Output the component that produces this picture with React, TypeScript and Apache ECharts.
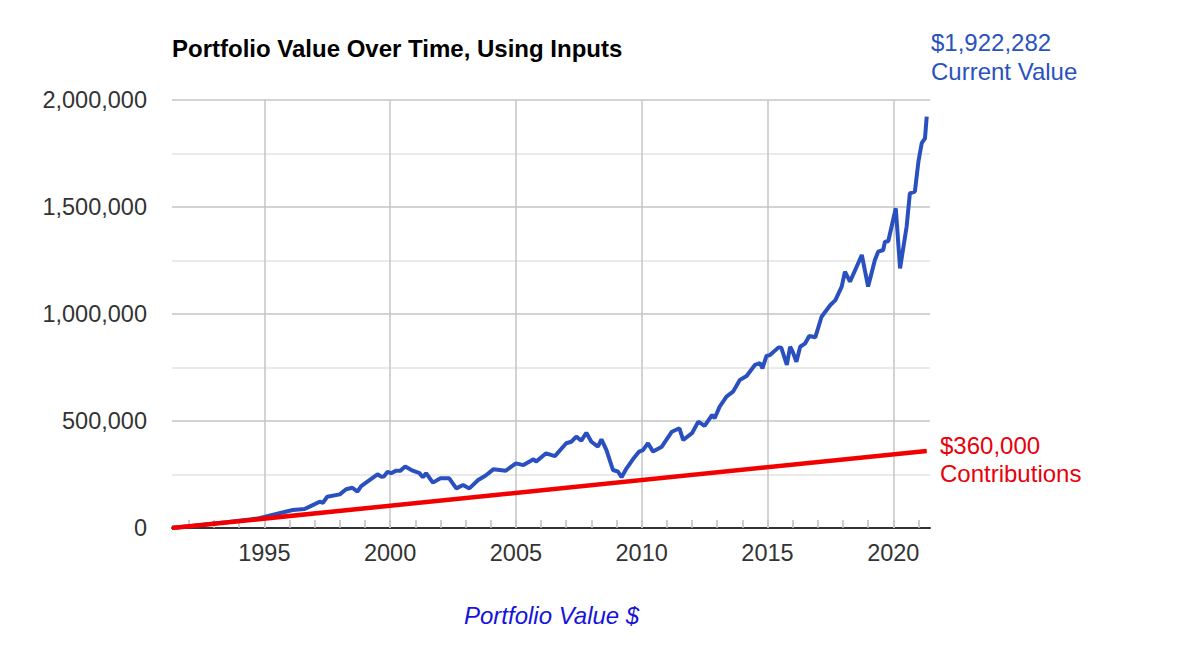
import React, { useEffect, useRef } from "react";
import * as echarts from "echarts";

const years = [
  1991.33, 1991.6, 1992.0, 1992.5, 1993.0, 1993.5, 1994.0, 1994.5, 1994.8, 1995.0,
  1995.6, 1996.13, 1996.6, 1996.8, 1997.2, 1997.33, 1997.5, 1998.0, 1998.25, 1998.5,
  1998.7, 1998.85, 1999.18, 1999.5, 1999.64, 1999.75, 1999.9, 2000.04, 2000.24, 2000.4,
  2000.6, 2000.9, 2001.17, 2001.3, 2001.43, 2001.7, 2002.0, 2002.35, 2002.63, 2002.9,
  2003.15, 2003.5, 2003.8, 2004.1, 2004.35, 2004.6, 2005.0, 2005.3, 2005.7, 2005.8,
  2006.2, 2006.55, 2007.0, 2007.2, 2007.4, 2007.6, 2007.8, 2008.0, 2008.26, 2008.4,
  2008.6, 2008.86, 2009.06, 2009.2, 2009.4, 2009.65, 2009.9, 2010.05, 2010.25, 2010.45,
  2010.8, 2011.2, 2011.5, 2011.65, 2012.0, 2012.25, 2012.5, 2012.8, 2012.9, 2013.1,
  2013.37, 2013.63, 2013.9, 2014.17, 2014.5, 2014.7, 2014.8, 2014.96, 2015.1, 2015.44,
  2015.55, 2015.77, 2015.9, 2016.0, 2016.15, 2016.3, 2016.5, 2016.66, 2016.9, 2017.15,
  2017.5, 2017.7, 2017.95, 2018.08, 2018.28, 2018.75, 2019.0, 2019.27, 2019.4, 2019.6,
  2019.67, 2019.8, 2020.1, 2020.27, 2020.53, 2020.66, 2020.86, 2021.0, 2021.13, 2021.26,
  2021.33,
];

const portfolio = [
  1000, 4000, 8000, 14000, 21000, 27000, 34000, 41000, 46000, 52000,
  69000, 84000, 89000, 100000, 123000, 118000, 146000, 157000, 181000, 188000,
  170000, 196000, 224000, 251000, 240000, 241000, 263000, 256000, 268000, 267000,
  287000, 268000, 256000, 237000, 256000, 212000, 232000, 232000, 185000, 201000,
  185000, 224000, 245000, 274000, 271000, 268000, 302000, 294000, 321000, 310000,
  349000, 336000, 396000, 403000, 427000, 408000, 445000, 403000, 380000, 414000,
  364000, 271000, 263000, 237000, 279000, 321000, 357000, 364000, 396000, 357000,
  380000, 450000, 466000, 411000, 443000, 497000, 477000, 528000, 513000, 567000,
  614000, 637000, 692000, 710000, 762000, 770000, 746000, 804000, 808000, 844000,
  842000, 762000, 847000, 824000, 777000, 847000, 863000, 897000, 891000, 987000,
  1042000, 1065000, 1128000, 1198000, 1151000, 1276000, 1128000, 1252000, 1291000, 1299000,
  1338000, 1340000, 1494000, 1213000, 1408000, 1564000, 1572000, 1712000, 1798000, 1821000,
  1922282,
];

const contributionYears = [1991.33, 2021.33];
const contributions = [0, 360000];

const labelYears = [1995, 2000, 2005, 2010, 2015, 2020];
const tickYears = [
  1992, 1993, 1994, 1995, 1996, 1997, 1998, 1999, 2000, 2001, 2002, 2003, 2004, 2005, 2006,
  2007, 2008, 2009, 2010, 2011, 2012, 2013, 2014, 2015, 2016, 2017, 2018, 2019, 2020, 2021,
];

const FONT = "'Liberation Sans', Arial, Helvetica, sans-serif";
const BLUE = "#2a50c0";
const RED = "#f20000";

export default function App() {
  const ref = useRef<HTMLDivElement>(null);
  useEffect(() => {
    if (!ref.current) return;
    const chart = echarts.init(ref.current, undefined, { renderer: "svg" });
    const fmt = (v: number) => v.toLocaleString("en-US");
    const lastP = portfolio[portfolio.length - 1];
    const lastC = contributions[contributions.length - 1];
    chart.setOption({
      animation: false,
      backgroundColor: "#ffffff",
      textStyle: { fontFamily: FONT },
      grid: { left: 172, right: 258, top: 100, bottom: 128 },
      xAxis: {
        type: "value",
        min: 1991.33,
        max: 2021.46,
        splitLine: { show: false },
        axisLine: { show: true, lineStyle: { color: "#333333", width: 2 } },
        axisTick: {
          show: true,
          inside: true,
          length: 8,
          customValues: tickYears,
          lineStyle: { color: "#bdbdbd", width: 1.5 },
        },
        axisLabel: {
          customValues: labelYears,
          formatter: (v: number) => String(v),
          fontSize: 23.5,
          color: "#333333",
          margin: 13,
          fontFamily: FONT,
        },
      },
      yAxis: {
        type: "value",
        min: 0,
        max: 2000000,
        interval: 500000,
        axisLine: { show: false },
        axisTick: { show: false },
        axisLabel: {
          formatter: (v: number) => fmt(v),
          fontSize: 23.5,
          color: "#333333",
          margin: 25,
          fontFamily: FONT,
        },
        splitLine: { show: true, lineStyle: { color: "#c4c4c4", width: 1.5 } },
        minorTick: { show: false, splitNumber: 2 },
        minorSplitLine: { show: true, lineStyle: { color: "#e3e3e3", width: 1.5 } },
      },
      series: [
        {
          type: "line",
          name: "grid",
          data: [],
          silent: true,
          z: 1,
          markLine: {
            silent: true,
            symbol: "none",
            z: 1,
            label: { show: false },
            lineStyle: { color: "#c4c4c4", width: 1.5, type: "solid" },
            data: labelYears.map((y) => ({ xAxis: y })),
          },
        },
        {
          type: "line",
          name: "Portfolio Value",
          data: years.map((y, i) => [y, portfolio[i]]),
          showSymbol: false,
          symbol: "none",
          z: 3,
          lineStyle: { color: BLUE, width: 4 },
        },
        {
          type: "line",
          name: "Contributions",
          data: contributionYears.map((y, i) => [y, contributions[i]]),
          showSymbol: false,
          symbol: "none",
          z: 4,
          lineStyle: { color: RED, width: 4.5 },
        },
      ],
      graphic: [
        {
          type: "text",
          left: 172,
          top: 36,
          style: {
            text: "Portfolio Value Over Time, Using Inputs",
            font: `bold 24px ${FONT}`,
            fill: "#000000",
          },
        },
        {
          type: "text",
          left: 931,
          top: 28,
          style: {
            text: `$${fmt(lastP)}\nCurrent Value`,
            font: `24px ${FONT}`,
            lineHeight: 29,
            fill: "#2a52be",
          },
        },
        {
          type: "text",
          left: 940,
          top: 431,
          style: {
            text: `$${fmt(lastC)}\nContributions`,
            font: `24px ${FONT}`,
            lineHeight: 28,
            fill: "#e8000b",
          },
        },
        {
          type: "text",
          left: 464,
          top: 603,
          style: {
            text: "Portfolio Value $",
            font: `italic 24px ${FONT}`,
            fill: "#1414dc",
          },
        },
      ],
    });
    return () => chart.dispose();
  }, []);
  return (
    <div
      ref={ref}
      style={{ position: "absolute", left: 0, top: 0, width: 1188, height: 656 }}
    />
  );
}
